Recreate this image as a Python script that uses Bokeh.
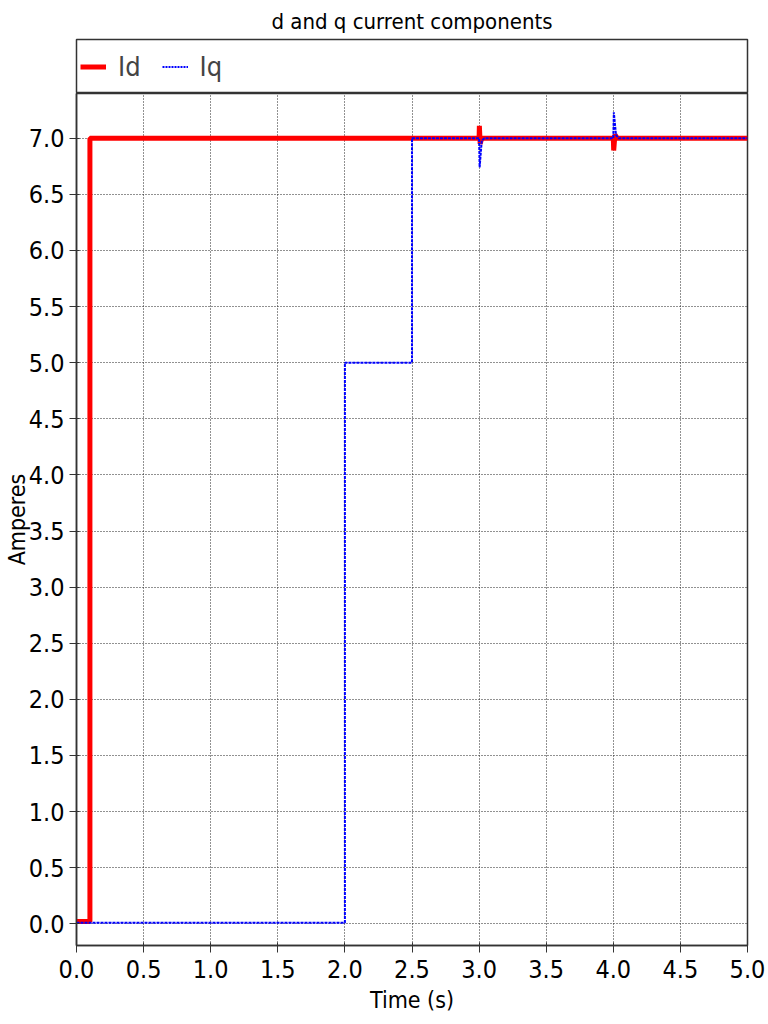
from bokeh.plotting import figure
from bokeh.layouts import column
from bokeh.models import (Range1d, FixedTicker, NumeralTickFormatter,
                          Legend, LegendItem)
from bokeh.embed import file_html
from bokeh.resources import INLINE

# ---- data ----
title_text = "d and q current components"
x_label = "Time (s)"
y_label = "Amperes"

id_time = [0.0, 0.1, 0.1, 3.0, 3.002, 3.008, 3.02, 4.0, 4.003, 4.012, 4.03, 5.0]
id_vals = [0.02, 0.02, 7.0, 7.0, 7.11, 6.95, 7.0, 7.0, 6.89, 7.03, 7.0, 7.0]

iq_time = [0.0, 2.0, 2.0, 2.5, 2.5, 3.0, 3.004, 3.02, 3.04, 4.0, 4.004, 4.02, 4.04, 5.0]
iq_vals = [0.01, 0.01, 5.0, 5.0, 7.0, 7.0, 6.74, 6.98, 7.0, 7.0, 7.23, 7.03, 7.0, 7.0]

x_ticks = [0.0, 0.5, 1.0, 1.5, 2.0, 2.5, 3.0, 3.5, 4.0, 4.5, 5.0]
y_ticks = [0.0, 0.5, 1.0, 1.5, 2.0, 2.5, 3.0, 3.5, 4.0, 4.5, 5.0, 5.5, 6.0, 6.5, 7.0]

FONT = "DejaVu Sans Condensed, Liberation Sans Narrow, Roboto, sans-serif"
FS_TITLE = "22px"
FS_TICK = "25px"
FS_LEG = "27px"
FS_AXIS = "23px"
EDGE = "#333333"
ID_COLOR = "#ff0000"
IQ_COLOR = "#0000ff"

W = 768
LEFT, RIGHT = 75, 21

# ---------- top strip: title + legend box ----------
top = figure(width=W, height=93, output_backend="svg", toolbar_location=None,
             x_range=Range1d(0, 5), y_range=Range1d(100, 101),
             x_axis_type=None, y_axis_type=None,
             min_border_left=LEFT, min_border_right=RIGHT,
             min_border_top=0, min_border_bottom=0)
top.grid.visible = False
top.title.text = title_text
top.title.align = "center"
top.title.text_font = FONT
top.title.text_font_size = FS_TITLE
top.title.text_font_style = "normal"
top.title.text_color = "black"
top.title.standoff = 12
top.outline_line_color = EDGE
top.outline_line_width = 1.5

# legend renderers use the same series (outside the strip's visible range)
lr_id = top.line(id_time, id_vals, line_color=ID_COLOR, line_width=5)
lr_iq = top.line(iq_time, iq_vals, line_color=IQ_COLOR, line_width=2, line_dash="2 1")
legend = Legend(items=[LegendItem(label="Id", renderers=[lr_id]),
                       LegendItem(label="Iq", renderers=[lr_iq])],
                location="center_left", orientation="horizontal",
                background_fill_alpha=0, border_line_color=None,
                label_text_font=FONT, label_text_font_size=FS_LEG,
                glyph_width=26, glyph_height=20, label_standoff=12,
                spacing=21, padding=4, margin=4)
top.add_layout(legend)

# ---------- main plot ----------
p = figure(width=W, height=922, output_backend="svg", toolbar_location=None,
           x_range=Range1d(0, 5), y_range=Range1d(-0.193, 7.398),
           min_border_left=LEFT, min_border_right=RIGHT,
           min_border_top=0, min_border_bottom=0)
p.outline_line_color = EDGE
p.outline_line_width = 1.5

for ax in (p.xaxis[0], p.yaxis[0]):
    ax.axis_line_color = EDGE
    ax.axis_line_width = 1.5
    ax.major_tick_line_color = EDGE
    ax.major_tick_in = 3
    ax.major_tick_out = 7
    ax.minor_tick_line_color = None
    ax.major_label_text_font = FONT
    ax.major_label_text_font_size = FS_TICK
    ax.major_label_text_color = "black"
    ax.axis_label_text_font = FONT
    ax.axis_label_text_font_size = FS_AXIS
    ax.axis_label_text_font_style = "normal"
    ax.axis_label_text_color = "black"

p.xaxis.ticker = FixedTicker(ticks=x_ticks)
p.yaxis.ticker = FixedTicker(ticks=y_ticks)
p.xaxis.formatter = NumeralTickFormatter(format="0.0")
p.yaxis.formatter = NumeralTickFormatter(format="0.0")
p.xaxis.major_label_standoff = 7
p.yaxis.major_label_standoff = 5
p.xaxis.axis_label = x_label
p.xaxis.axis_label_standoff = 6
p.yaxis.axis_label = y_label
p.yaxis.axis_label_standoff = -4

p.grid.grid_line_color = "#222222"
p.grid.grid_line_dash = "1 2"
p.grid.grid_line_width = 1
p.xgrid.ticker = FixedTicker(ticks=x_ticks)
p.ygrid.ticker = FixedTicker(ticks=y_ticks)

p.line(id_time, id_vals, line_color=ID_COLOR, line_width=5)
p.line(iq_time, iq_vals, line_color=IQ_COLOR, line_width=2, line_dash="3 1")

layout = column(top, p, spacing=0)
open("out.html", "w").write(file_html(layout, INLINE))
